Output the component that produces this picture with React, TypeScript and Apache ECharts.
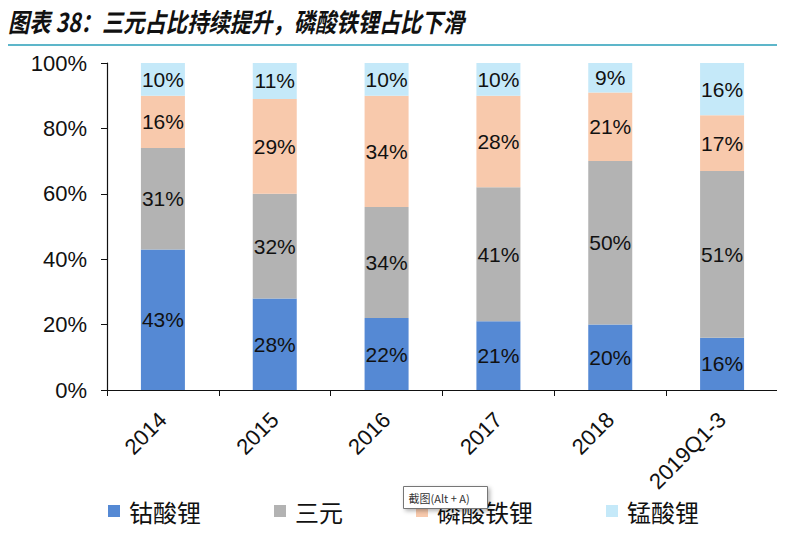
import React, { useEffect, useRef } from "react";
import * as echarts from "echarts";

// Battery cathode share by year (percent)
const categories = ["2014", "2015", "2016", "2017", "2018", "2019Q1-3"];
const lco = [43, 28, 22, 21, 20, 16]; // 钴酸锂
const ncm = [31, 32, 34, 41, 50, 51]; // 三元
const lfp = [16, 29, 34, 28, 21, 17]; // 磷酸铁锂
const lmo = [10, 11, 10, 10, 9, 16]; // 锰酸锂
const yTicks = [0, 20, 40, 60, 80, 100];

const seriesDefs = [
  { name: "钴酸锂", data: lco, color: "#5589D4" },
  { name: "三元", data: ncm, color: "#B3B3B3" },
  { name: "磷酸铁锂", data: lfp, color: "#F8C9AC" },
  { name: "锰酸锂", data: lmo, color: "#C5E9F9" },
];

const LATIN = "Arial, 'Liberation Sans', 'Noto Sans CJK SC', sans-serif";
const CJK = "'Noto Sans CJK SC', 'Microsoft YaHei', sans-serif";

export default function App() {
  const ref = useRef<HTMLDivElement>(null);

  useEffect(() => {
    if (!ref.current) return;
    const chart = echarts.init(ref.current, undefined, { renderer: "svg" });
    chart.setOption({
      animation: false,
      backgroundColor: "#ffffff",
      grid: { left: 107, right: 7, top: 63, bottom: 149, containLabel: false },
      legend: {
        left: 103,
        top: 494,
        itemWidth: 12,
        itemHeight: 12,
        itemGap: 73,
        icon: "rect",
        textStyle: { fontFamily: CJK, fontSize: 24, color: "#111111", padding: [0, 0, 0, 4] },
        data: seriesDefs.map((s) => s.name),
      },
      xAxis: {
        type: "category",
        data: categories,
        axisLine: { lineStyle: { color: "#111111", width: 1.2 } },
        axisTick: { show: true, alignWithLabel: false, length: 6, lineStyle: { color: "#111111" } },
        axisLabel: {
          rotate: 45,
          margin: 26,
          interval: 0,
          fontFamily: LATIN,
          fontSize: 22,
          color: "#111111",
        },
      },
      yAxis: {
        type: "value",
        min: 0,
        max: 100,
        interval: 20,
        axisLine: { show: true, lineStyle: { color: "#111111", width: 1.2 } },
        axisTick: { show: true, inside: false, length: 6, lineStyle: { color: "#111111" } },
        splitLine: { show: false },
        axisLabel: {
          margin: 20,
          fontFamily: LATIN,
          fontSize: 22,
          color: "#111111",
          formatter: (v: number) => (yTicks.includes(v) ? v + "%" : ""),
        },
      },
      series: seriesDefs.map((s) => ({
        name: s.name,
        type: "bar",
        stack: "total",
        barWidth: 44,
        data: s.data,
        itemStyle: { color: s.color },
        label: {
          show: true,
          position: "inside",
          formatter: (p: any) => p.value + "%",
          fontFamily: LATIN,
          fontSize: 21,
          color: "#111111",
        },
      })),
      graphic: [
        {
          type: "text",
          x: 8,
          y: 21,
          scaleX: 0.82,
          style: {
            text: "图表 38：三元占比持续提升，磷酸铁锂占比下滑",
            fontFamily: CJK,
            fontSize: 26,
            fontWeight: "bold",
            fontStyle: "italic",
            fill: "#111111",
            verticalAlign: "middle",
          },
        },
        {
          type: "rect",
          left: 0,
          top: 44,
          shape: { width: 785, height: 2 },
          style: { fill: "#5DB6CA" },
        },
        {
          type: "rect",
          left: 0,
          top: 536,
          shape: { width: 785, height: 2 },
          style: { fill: "#5DB6CA" },
        },
        {
          type: "group",
          left: 403,
          top: 486,
          z: 100,
          children: [
            {
              type: "rect",
              z: 100,
              shape: { x: 0, y: 0, width: 84, height: 22 },
              style: {
                fill: "#ffffff",
                stroke: "#767676",
                lineWidth: 1,
                shadowBlur: 4,
                shadowOffsetX: 2,
                shadowOffsetY: 2,
                shadowColor: "rgba(0,0,0,0.3)",
              },
            },
            {
              type: "text",
              z: 101,
              x: 5,
              y: 11,
              style: {
                text: "截图(Alt + A)",
                fontFamily: CJK,
                fontSize: 11,
                fill: "#333333",
                verticalAlign: "middle",
              },
            },
          ],
        },
      ],
    });
    return () => chart.dispose();
  }, []);

  return <div ref={ref} style={{ width: 785, height: 539, margin: -8 }} />;
}
